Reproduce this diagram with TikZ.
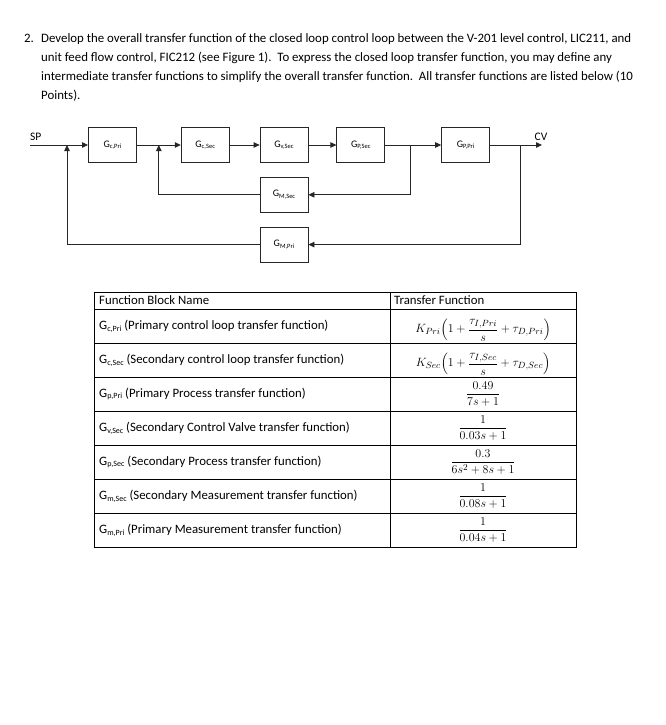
\documentclass[tikz,border=0pt]{standalone}
\usepackage{amsmath}
\usepackage{fontspec}
\setmainfont{Carlito}
\usetikzlibrary{arrows.meta, positioning, calc}
\newcommand{\gname}[3][6.5]{#2\raisebox{-0.3ex}{\fontsize{#1}{#1}\selectfont #3}}
\tikzset{
  blknode/.style={draw=black!85, line width=0.8pt, minimum width=48pt, minimum height=35pt, inner sep=1pt, font=\fontsize{10}{10}\selectfont},
  sigline/.style={line width=0.8pt, black!85},
  sigarrow/.style={sigline, -{Triangle[length=6pt, width=5.5pt]}},
  gridline/.style={line width=0.7pt},
  qline/.style={anchor=base west, inner sep=0pt, font=\fontsize{12.85}{14}\selectfont},
  cellname/.style={anchor=west, inner sep=0pt, font=\fontsize{12.8}{14}\selectfont},
  cellfun/.style={inner sep=0pt, font=\fontsize{12.3}{14}\selectfont},
}

\begin{document}
\begin{tikzpicture}[x=1pt, y=-1pt, node distance=30pt]
  \useasboundingbox (0,0) rectangle (666,725);
  % question
  \node[qline, anchor=base east] (qnum) at (34,42.5) {2.};
  \foreach \row/\txt in {0/{Develop the overall transfer function of the closed loop control loop between the V-201 level control, LIC211, and},
      1/{unit feed flow control, FIC212 (see Figure 1).\ \ To express the closed loop transfer function, you may define any},
      2/{intermediate transfer functions to simplify the overall transfer function.\ \ All transfer functions are listed below (10},
      3/{Points).}}
    \node[qline] (q\row) at (41,42.5+19*\row) {\txt};

  % block diagram
  \coordinate (sp) at (30,145);
  \node[blknode, anchor=west] (gcpri) at (88,145) {\gname{G}{c,Pri}};
  \node[blknode, right=44pt of gcpri] (gcsec) {\gname{G}{c,Sec}};
  \node[blknode, right=30pt of gcsec] (gvsec) {\gname{G}{v,Sec}};
  \node[blknode, right=28pt of gvsec] (gpsec) {\gname{G}{P,Sec}};
  \node[blknode, right=56pt of gpsec] (gppri) {\gname{G}{P,Pri}};
  \node[blknode, below=14pt of gvsec] (gmsec) {\gname{G}{M,Sec}};
  \node[blknode, below=14pt of gmsec] (gmpri) {\gname{G}{M,Pri}};
  \coordinate (sum1) at (67,145);
  \coordinate (sum2) at ($(gcpri.east)!0.5!(gcsec.west)$);
  \coordinate (br1) at (410,145);
  \coordinate (br2) at (520,145);
  \coordinate (cv) at (542,145);
  \node[anchor=south west, inner sep=1pt, font=\fontsize{11.5}{12}\selectfont] (splabel) at ($(sp)+(-1,-3)$) {SP};
  \node[anchor=south, inner sep=1pt, font=\fontsize{11.5}{12}\selectfont] (cvlabel) at ($(cv)+(-1,-3)$) {CV};

  \draw[sigarrow] (sp) -- (gcpri);
  \draw[sigarrow] (gcpri) -- (gcsec);
  \draw[sigarrow] (gcsec) -- (gvsec);
  \draw[sigarrow] (gvsec) -- (gpsec);
  \draw[sigarrow] (gpsec) -- (gppri);
  \draw[sigarrow] (gppri) -- (cv);
  \draw[sigarrow] (br1) |- (gmsec);
  \draw[sigarrow] (br2) |- (gmpri);
  \draw[sigarrow] (gmsec) -| (sum2);
  \draw[sigarrow] (gmpri) -| (sum1);

  % table
  \draw[gridline] (94,292) rectangle (576,547);
  \draw[gridline] (390,292) -- (390,547);
  \foreach \y in {309,343,377,411,445,479,513}
    \draw[gridline] (94,\y) -- (576,\y);
  \node[cellname] (hname) at (99,300) {Function Block Name};
  \node[cellname] (hfun) at (394,300) {Transfer Function};
  \foreach \i/\dy/\nm/\fn in {
      0/4/{\gname[8]{G}{c,Pri} (Primary control loop transfer function)}/{$K_{Pri}\Bigl(1+\dfrac{\tau_{I,Pri}}{s}+\tau_{D,Pri}\Bigr)$},
      1/4/{\gname[8]{G}{c,Sec} (Secondary control loop transfer function)}/{$K_{Sec}\Bigl(1+\dfrac{\tau_{I,Sec}}{s}+\tau_{D,Sec}\Bigr)$},
      2/0/{\gname[8]{G}{p,Pri} (Primary Process transfer function)}/{$\dfrac{0.49}{7s+1}$},
      3/0/{\gname[8]{G}{v,Sec} (Secondary Control Valve transfer function)}/{$\dfrac{1}{0.03s+1}$},
      4/0/{\gname[8]{G}{p,Sec} (Secondary Process transfer function)}/{$\dfrac{0.3}{6s^2+8s+1}$},
      5/0/{\gname[8]{G}{m,Sec} (Secondary Measurement transfer function)}/{$\dfrac{1}{0.08s+1}$},
      6/0/{\gname[8]{G}{m,Pri} (Primary Measurement transfer function)}/{$\dfrac{1}{0.04s+1}$}}
  {
    \node[cellname] (name\i) at (99,326+34*\i) {\nm};
    \node[cellfun] (fun\i) at (483,326+34*\i+\dy) {\fn};
  }
\end{tikzpicture}
\end{document}
